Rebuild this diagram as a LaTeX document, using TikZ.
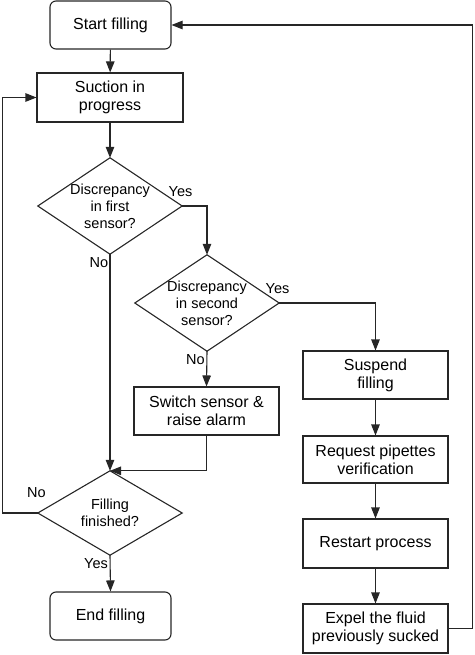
\documentclass[tikz,border=0pt]{standalone}
\usepackage{fontspec}
\setmainfont{Liberation Sans}
\usetikzlibrary{arrows.meta}
\tikzset{
  box/.style={draw=black!85, line width=1.1pt, minimum width=145pt, minimum height=48pt, inner sep=0pt, align=center, font=\fontsize{16}{18}\selectfont},
  term/.style={box, rounded corners=6pt, minimum width=121pt},
  dia/.style={inner sep=0pt, minimum width=144pt, minimum height=96pt, align=center, font=\fontsize{14.5}{17}\selectfont},
  dshape/.style={draw=black!85, line width=1.1pt},
  lbl/.style={inner sep=0pt, font=\fontsize{14.5}{17}\selectfont},
  conn/.style={draw=black!85, line width=1.1pt, -{Triangle[length=11pt,width=8.5pt]}},
  line/.style={draw=black!85, line width=1.1pt}
}
\begin{document}
\begin{tikzpicture}[x=1pt,y=-1pt]
\useasboundingbox (0,0) rectangle (474,655);
\node[term] (start) at (110.5,25) {Start filling};
\node[box, minimum width=146pt, minimum height=49pt] (suction) at (110,97.5) {Suction in\\progress};
\node[dia] (d1) at (110,206) {Discrepancy\\in first\\sensor?};
\draw[dshape] (d1.north) -- (d1.east) -- (d1.south) -- (d1.west) -- cycle;
\node[dia] (d2) at (207,303) {Discrepancy\\in second\\sensor?};
\draw[dshape] (d2.north) -- (d2.east) -- (d2.south) -- (d2.west) -- cycle;
\node[box] (switch) at (206.5,411) {Switch sensor \&\\raise alarm};
\node[dia, minimum height=84pt] (fill) at (110,513) {Filling\\finished?};
\draw[dshape] (fill.north) -- (fill.east) -- (fill.south) -- (fill.west) -- cycle;
\node[term] (endf) at (110.5,616) {End filling};
\node[box] (suspend) at (375.5,375) {Suspend\\filling};
\node[box, minimum height=47pt] (request) at (375.5,459.5) {Request pipettes\\verification};
\node[box, minimum height=49pt] (restart) at (375.5,543.5) {Restart process};
\node[box, minimum height=49pt] (expel) at (375.5,628.5) {Expel the fluid\\previously sucked};

\draw[conn] (start) -- (suction);
\draw[conn] (suction) -- (d1.north);
\draw[conn] (d1.east) -| (d2.north);
\draw[conn] (d1.south) -- (fill.north);
\draw[conn] (d2.east) -| (suspend.north);
\draw[conn] (d2.south) -- (switch.north);
\draw[conn] (switch.south) |- (fill.north);
\draw[conn] (fill.west) -- ++(-35.5,0) |- (suction.west);
\draw[conn] (fill.south) -- (endf.north);
\draw[conn] (suspend) -- (request);
\draw[conn] (request) -- (restart);
\draw[conn] (restart) -- (expel);
\draw[conn] (expel.east) -- ++(24,0) |- (start.east);

\node[lbl] (y1) at (180.5,192) {Yes};
\node[lbl] (n1) at (99,263) {No};
\node[lbl] (y2) at (277.5,288.5) {Yes};
\node[lbl] (n2) at (195.5,360) {No};
\node[lbl] (n3) at (36.5,493) {No};
\node[lbl] (y3) at (96,564) {Yes};
\end{tikzpicture}
\end{document}
